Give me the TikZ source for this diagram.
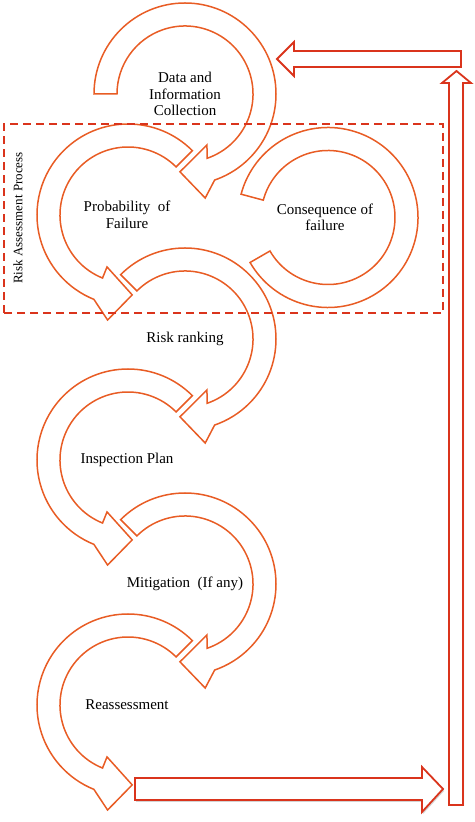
\documentclass[tikz,border=0pt]{standalone}
\usepackage{fontspec}
\setmainfont{Liberation Serif}
\usepackage{tikz}
\usetikzlibrary{calc, shadows}
\usepackage{xcolor}

\definecolor{arcorange}{RGB}{232,92,36}
\definecolor{boxred}{RGB}{218,52,28}

\tikzset{
    curvearrow/.style={draw=arcorange, line width=1.5pt, line join=miter},
    straightarrow/.style={draw=boxred, line width=1.8pt, fill=white, line join=miter},
    steplabel/.style={align=center, font=\fontsize{15}{16.5}\selectfont},
}

% 顺时针弯箭头 (#1 = 圆心, #2 = 起始角)
\newcommand{\cwarrow}[2]{%
    \draw[curvearrow] ($(#1)+(#2:91)$) arc[start angle=#2, end angle=-71, radius=91]
        -- ($(#1)+(-79:106)$) -- ($(#1)+(-93.7:78)$) -- ($(#1)+(-66.7:55.5)$)
        -- ($(#1)+(-71:68)$) arc[start angle=-71, end angle=#2, radius=68] -- cycle;}
% 逆时针弯箭头 (#1 = 圆心)
\newcommand{\ccwarrow}[1]{%
    \draw[curvearrow] ($(#1)+(45:91)$) arc[start angle=45, end angle=248, radius=91]
        -- ($(#1)+(259:107)$) -- ($(#1)+(273:80)$) -- ($(#1)+(248:56)$)
        -- ($(#1)+(248:68)$) arc[start angle=248, end angle=45, radius=68] -- cycle;}

\begin{document}
\begin{tikzpicture}[x=1pt, y=1pt]
    \useasboundingbox (0, 0) rectangle (474, 822);

    % 圆心
    \coordinate (data) at (185, 728);
    \coordinate (pof) at (128, 607);
    \coordinate (cof) at (328, 604.5);
    \coordinate (rank) at (185, 483);
    \coordinate (plan) at (128, 362);
    \coordinate (mitig) at (185, 238);
    \coordinate (reass) at (128, 117);

    % 弯箭头
    \cwarrow{data}{180}
    \ccwarrow{pof}
    \draw[curvearrow] ($(cof)+(165:90)$) arc[start angle=165, end angle=-150, radius=90]
        -- ($(cof)+(-150:67)$) arc[start angle=-150, end angle=165, radius=67] -- cycle;
    \cwarrow{rank}{135}
    \ccwarrow{plan}
    \cwarrow{mitig}{135}
    \ccwarrow{reass}

    % 文字
    \node[steplabel] (datatext) at (data) {Data and\\Information\\Collection};
    \node[steplabel] (poftext) at ($(pof)+(-1,0)$) {Probability \ of\\Failure};
    \node[steplabel] (coftext) at ($(cof)+(-3,0)$) {Consequence of\\failure};
    \node[steplabel] (ranktext) at (rank) {Risk ranking};
    \node[steplabel] (plantext) at ($(plan)+(-1,0)$) {Inspection Plan};
    \node[steplabel] (mitigtext) at (mitig) {Mitigation \ (If any)};
    \node[steplabel] (reasstext) at ($(reass)+(-1,0)$) {Reassessment};

    % 虚线框
    \draw[boxred, line width=2pt, dash pattern=on 8pt off 5pt] (4, 509) rectangle (443, 698);
    \node[rotate=90, font=\fontsize{13}{14}\selectfont] (rap) at (18, 604) {Risk Assessment Process};

    % 直箭头
    \draw[straightarrow, drop shadow={opacity=0.35, shadow xshift=1pt, shadow yshift=-2pt}]
        (135, 22) -- (135, 44) -- (422, 44) -- (422, 55) -- (443, 33) -- (422, 10) -- (422, 22) -- cycle;
    \draw[straightarrow, drop shadow={opacity=0.25, shadow xshift=1pt, shadow yshift=-1pt}]
        (449, 17) -- (449, 739) -- (442, 739) -- (456.5, 751) -- (471, 739) -- (463, 739) -- (463, 17) -- cycle;
    \draw[straightarrow]
        (461, 771) -- (294, 771) -- (294, 780) -- (277, 763) -- (294, 746) -- (294, 755) -- (461, 755) -- cycle;
\end{tikzpicture}
\end{document}
